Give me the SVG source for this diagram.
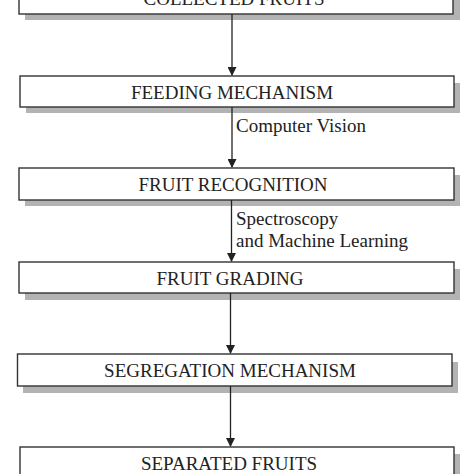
<svg xmlns="http://www.w3.org/2000/svg" width="474" height="474" viewBox="0 0 474 474">
<style>
.sh{fill:#b3b3b3;stroke:none}
.bx{fill:#fff;stroke:#333;stroke-width:1.4}
.t{font-family:"Liberation Serif","Times New Roman",serif;font-size:19px;fill:#222;text-anchor:middle}
.l{font-family:"Liberation Serif","Times New Roman",serif;font-size:19px;fill:#222}
.c{stroke:#222;stroke-width:1.3;fill:none}
</style>
<defs>
<marker id="ah" markerWidth="10" markerHeight="9" refX="9" refY="5" orient="auto" markerUnits="userSpaceOnUse" viewBox="0 0 10 10">
<path d="M0,0 L10,5 L0,10 Z" fill="#222"/>
</marker>
</defs>
<rect width="474" height="474" fill="#fff"/>
<g id="n1"><rect class="sh" x="25" y="-11" width="435" height="31"/><rect class="bx" x="19" y="-17" width="434" height="31"/><text class="t" x="234" y="5">COLLECTED FRUITS</text></g>
<g id="n2"><rect class="sh" x="26" y="83" width="434" height="30"/><rect class="bx" x="20" y="76" width="434" height="31"/><text class="t" x="232" y="99">FEEDING MECHANISM</text></g>
<g id="n3"><rect class="sh" x="25" y="175" width="435" height="31"/><rect class="bx" x="19" y="168" width="435" height="32"/><text class="t" x="233" y="191">FRUIT RECOGNITION</text></g>
<g id="n4"><rect class="sh" x="25" y="269" width="435" height="31"/><rect class="bx" x="19" y="262" width="435" height="31"/><text class="t" x="230" y="285">FRUIT GRADING</text></g>
<g id="n5"><rect class="sh" x="23" y="362" width="435" height="31"/><rect class="bx" x="17.5" y="354" width="434.5" height="32"/><text class="t" x="230" y="377">SEGREGATION MECHANISM</text></g>
<g id="n6"><rect class="sh" x="26" y="454" width="434" height="31"/><rect class="bx" x="20" y="447" width="434" height="31"/><text class="t" x="229" y="470">SEPARATED FRUITS</text></g>
<g id="edges">
<line class="c" x1="232" y1="14" x2="232" y2="75" marker-end="url(#ah)"/>
<line class="c" x1="232" y1="107" x2="232" y2="167" marker-end="url(#ah)"/>
<line class="c" x1="231.5" y1="200" x2="231.5" y2="261" marker-end="url(#ah)"/>
<line class="c" x1="230.5" y1="293" x2="230.5" y2="353" marker-end="url(#ah)"/>
<line class="c" x1="230.5" y1="386" x2="230.5" y2="446" marker-end="url(#ah)"/>
<text class="l" x="236" y="132">Computer Vision</text>
<text class="l" x="236" y="225">Spectroscopy</text>
<text class="l" x="236" y="247">and Machine Learning</text>
</g>
</svg>
